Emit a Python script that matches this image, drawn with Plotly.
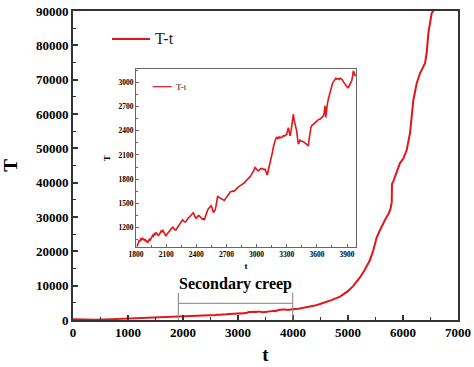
import plotly.graph_objects as go

# ---- data ----
early_t = [0, 80, 200, 400, 700, 1000, 1300, 1600, 1790]
early_T = [250, 230, 80, 60, 250, 420, 600, 800, 930]

inset_t = [1810, 1818, 1826, 1834, 1842, 1850, 1858, 1866, 1874, 1883, 1892, 1900, 1908, 1916, 1925, 1933, 1941, 1949,
           1958, 1966, 1974, 1982, 1990, 1999, 2007, 2015, 2024, 2032, 2040, 2048, 2056, 2065, 2073, 2081, 2090, 2099,
           2107, 2115, 2124, 2132, 2140, 2148, 2157, 2165, 2173, 2181, 2190, 2198, 2206, 2214, 2222, 2231, 2239, 2247,
           2256, 2264, 2272, 2281, 2289, 2298, 2306, 2314, 2322, 2331, 2339, 2347, 2355, 2363, 2371, 2380, 2388, 2397,
           2405, 2413, 2422, 2430, 2438, 2446, 2455, 2463, 2471, 2480, 2488, 2496, 2504, 2513, 2521, 2529, 2537, 2546,
           2554, 2562, 2570, 2579, 2589, 2597, 2605, 2613, 2621, 2629, 2638, 2646, 2654, 2663, 2671, 2679, 2687, 2696,
           2704, 2712, 2720, 2729, 2737, 2745, 2753, 2762, 2770, 2778, 2787, 2795, 2803, 2812, 2820, 2828, 2837, 2845,
           2853, 2862, 2870, 2878, 2887, 2895, 2903, 2911, 2920, 2928, 2936, 2944, 2953, 2961, 2969, 2977, 2985, 2994,
           3002, 3010, 3018, 3026, 3035, 3043, 3051, 3059, 3068, 3076, 3084, 3092, 3100, 3107, 3115, 3124, 3132, 3140,
           3149, 3157, 3165, 3174, 3182, 3190, 3200, 3208, 3216, 3224, 3233, 3241, 3250, 3258, 3266, 3275, 3283, 3291,
           3300, 3308, 3316, 3324, 3333, 3341, 3349, 3358, 3366, 3374, 3383, 3391, 3399, 3408, 3416, 3424, 3432, 3441,
           3449, 3457, 3466, 3474, 3482, 3490, 3499, 3507, 3515, 3523, 3531, 3540, 3548, 3556, 3565, 3573, 3582, 3590,
           3598, 3607, 3615, 3623, 3631, 3640, 3648, 3656, 3665, 3673, 3681, 3688, 3697, 3705, 3714, 3722, 3730, 3739,
           3747, 3755, 3764, 3772, 3781, 3789, 3797, 3806, 3814, 3822, 3831, 3839, 3847, 3856, 3864, 3872, 3880, 3889,
           3897, 3905, 3913, 3922, 3930, 3938, 3946, 3955, 3963, 3971, 3980, 3988]
inset_T = [960, 985, 1010, 1040, 1025, 1065, 1050, 1070, 1045, 1040, 1055, 1020, 1035, 1005, 1030, 1050, 1040, 1065,
           1080, 1100, 1090, 1120, 1110, 1135, 1120, 1115, 1100, 1110, 1130, 1150, 1140, 1168, 1150, 1135, 1110, 1090,
           1110, 1125, 1140, 1148, 1160, 1175, 1190, 1200, 1185, 1175, 1165, 1168, 1190, 1205, 1215, 1230, 1250, 1265,
           1280, 1292, 1280, 1275, 1265, 1272, 1290, 1310, 1320, 1325, 1340, 1355, 1365, 1375, 1385, 1350, 1325, 1312,
           1320, 1335, 1345, 1340, 1330, 1320, 1310, 1300, 1305, 1290, 1320, 1360, 1390, 1415, 1430, 1445, 1455, 1468,
           1450, 1410, 1385, 1400, 1415, 1470, 1560, 1590, 1575, 1570, 1565, 1560, 1555, 1548, 1540, 1535, 1550, 1565,
           1570, 1578, 1600, 1620, 1640, 1645, 1640, 1650, 1645, 1648, 1660, 1672, 1685, 1695, 1702, 1708, 1720, 1730,
           1735, 1740, 1745, 1750, 1765, 1780, 1790, 1800, 1808, 1812, 1830, 1845, 1860, 1880, 1900, 1920, 1943, 1930,
           1915, 1905, 1902, 1915, 1925, 1932, 1930, 1925, 1920, 1918, 1922, 1890, 1860, 1848, 1900, 1950, 1985, 2010,
           2060, 2130, 2190, 2240, 2280, 2300, 2317, 2305, 2320, 2310, 2325, 2315, 2318, 2330, 2340, 2335, 2345, 2350,
           2358, 2400, 2440, 2390, 2338, 2380, 2450, 2540, 2607, 2530, 2483, 2440, 2400, 2300, 2234, 2260, 2285, 2275,
           2276, 2270, 2262, 2258, 2254, 2240, 2230, 2225, 2213, 2300, 2390, 2440, 2462, 2475, 2490, 2495, 2503, 2510,
           2522, 2530, 2540, 2545, 2545, 2555, 2565, 2580, 2587, 2630, 2711, 2566, 2680, 2740, 2794, 2840, 2880, 2925,
           2960, 2990, 3010, 3030, 3043, 3055, 3045, 3050, 3051, 3040, 3055, 3050, 3043, 3030, 3010, 2995, 2981, 2965,
           2950, 2940, 2939, 2960, 2985, 3005, 3022, 3080, 3147, 3120, 3085, 3100]

late_t = [4100, 4250, 4400, 4491, 4600, 4700, 4855, 5000, 5100, 5218, 5300, 5400, 5460, 5521, 5582, 5640, 5703,
          5733, 5770, 5795, 5800, 5824, 5870, 5945, 6006, 6067, 6127, 6188, 6249, 6309, 6400, 6430, 6461, 6521,
          6551, 6580]
late_T = [3300, 3700, 4200, 4660, 5200, 5800, 6790, 8400, 10000, 12400, 14500, 17480, 20300, 24000, 26200, 28200,
          30100, 30800, 32300, 34200, 39600, 40370, 42500, 45700, 47000, 49500, 54400, 64000, 68950, 71860, 74770,
          77690, 83500, 89340, 90000, 92500]

main_t = early_t + inset_t + late_t
main_T = early_T + inset_T + late_T

main_xticks = [0, 1000, 2000, 3000, 4000, 5000, 6000, 7000]
main_yticks = [0, 10000, 20000, 30000, 40000, 50000, 60000, 70000, 80000, 90000]
inset_xticks = [1800, 2100, 2400, 2700, 3000, 3300, 3600, 3900]
inset_yticks = [1200, 1500, 1800, 2100, 2400, 2700, 3000]

CREEP_START, CREEP_END = 1915, 3995
CREEP_LEVEL, CREEP_TOP = 4860, 7950

RED = "#e5131b"
SERIF = "Liberation Serif, Times New Roman, DejaVu Serif, serif"

fig = go.Figure()
fig.add_trace(go.Scatter(x=main_t, y=main_T, mode="lines", line=dict(color=RED, width=2),
                         showlegend=False, xaxis="x", yaxis="y"))
fig.add_trace(go.Scatter(x=inset_t, y=inset_T, mode="lines", line=dict(color=RED, width=1.6),
                         showlegend=False, xaxis="x2", yaxis="y2"))

axis_common = dict(showgrid=False, zeroline=False, showline=True, mirror=True, ticks="inside",
                   automargin=False, tickformat="d")

fig.update_layout(
    width=474, height=367,
    margin=dict(l=73, r=16, t=11, b=47),
    paper_bgcolor="white", plot_bgcolor="white",
    xaxis=dict(**axis_common, range=[0, 7000], tickvals=main_xticks, linecolor="#333", linewidth=1.6,
               tickcolor="#333", ticklen=5, tickwidth=1.5,
               minor=dict(dtick=500, ticks="inside", ticklen=3, tickcolor="#333", tickwidth=1),
               tickfont=dict(family=SERIF, size=13, color="black", weight="bold"),
               title=dict(text="t", font=dict(family=SERIF, size=19, color="black", weight="bold"), standoff=8)),
    yaxis=dict(**axis_common, range=[0, 90000], tickvals=main_yticks, linecolor="#333", linewidth=1.6,
               tickcolor="#333", ticklen=5, tickwidth=1.5,
               minor=dict(dtick=5000, ticks="inside", ticklen=3, tickcolor="#333", tickwidth=1),
               tickfont=dict(family=SERIF, size=13, color="black", weight="bold"),
               title=dict(text="T", font=dict(family=SERIF, size=19, color="black", weight="bold"), standoff=14)),
    xaxis2=dict(**axis_common, domain=[0.1636, 0.735], anchor="y2", range=[1800, 3989], tickvals=inset_xticks,
                linecolor="#666", linewidth=1, tickcolor="#666", ticklen=3, tickwidth=1,
                minor=dict(dtick=150, ticks="inside", ticklen=2, tickcolor="#666"),
                tickfont=dict(family=SERIF, size=7.5, color="black", weight="bold"),
                title=dict(text="t", font=dict(family=SERIF, size=9, color="black", weight="bold"), standoff=4)),
    yaxis2=dict(**axis_common, domain=[0.2362, 0.8107], anchor="x2", range=[954, 3164], tickvals=inset_yticks,
                linecolor="#666", linewidth=1, tickcolor="#666", ticklen=3, tickwidth=1,
                minor=dict(dtick=150, ticks="inside", ticklen=2, tickcolor="#666"),
                tickfont=dict(family=SERIF, size=7.5, color="black", weight="bold"),
                title=dict(text="T", font=dict(family=SERIF, size=9, color="black", weight="bold"), standoff=6)),
)

# Secondary creep bracket
for x0, y0, x1, y1 in [(CREEP_START, CREEP_LEVEL, CREEP_END, CREEP_LEVEL),
                       (CREEP_START, 0, CREEP_START, CREEP_TOP),
                       (CREEP_END, 0, CREEP_END, CREEP_TOP)]:
    fig.add_shape(type="line", xref="x", yref="y", x0=x0, y0=y0, x1=x1, y1=y1,
                  line=dict(color="#808080", width=1))
fig.add_annotation(x=(CREEP_START + CREEP_END) / 2, y=CREEP_TOP, xref="x", yref="y", yanchor="bottom",
                   text="<b>Secondary creep</b>", showarrow=False, yshift=-2,
                   font=dict(family=SERIF, size=16, color="black"))

# Legends (drawn manually)
fig.add_shape(type="line", xref="paper", yref="paper", x0=0.1013, x1=0.2, y0=0.9094, y1=0.9094,
              line=dict(color=RED, width=2))
fig.add_annotation(x=0.2078, y=0.9094, xref="paper", yref="paper", xanchor="left", yanchor="middle",
                   text="T-t", showarrow=False, font=dict(family=SERIF, size=16, color="#222"))
fig.add_shape(type="line", xref="paper", yref="paper", x0=0.207, x1=0.2564, y0=0.755, y1=0.755,
              line=dict(color=RED, width=1.2))
fig.add_annotation(x=0.2623, y=0.755, xref="paper", yref="paper", xanchor="left", yanchor="middle",
                   text="T-t", showarrow=False, font=dict(family=SERIF, size=9, color="#222"))

fig.write_html("out.html", config={"displayModeBar": False},
               post_script="document.body.style.margin='0';document.body.style.padding='0';")
